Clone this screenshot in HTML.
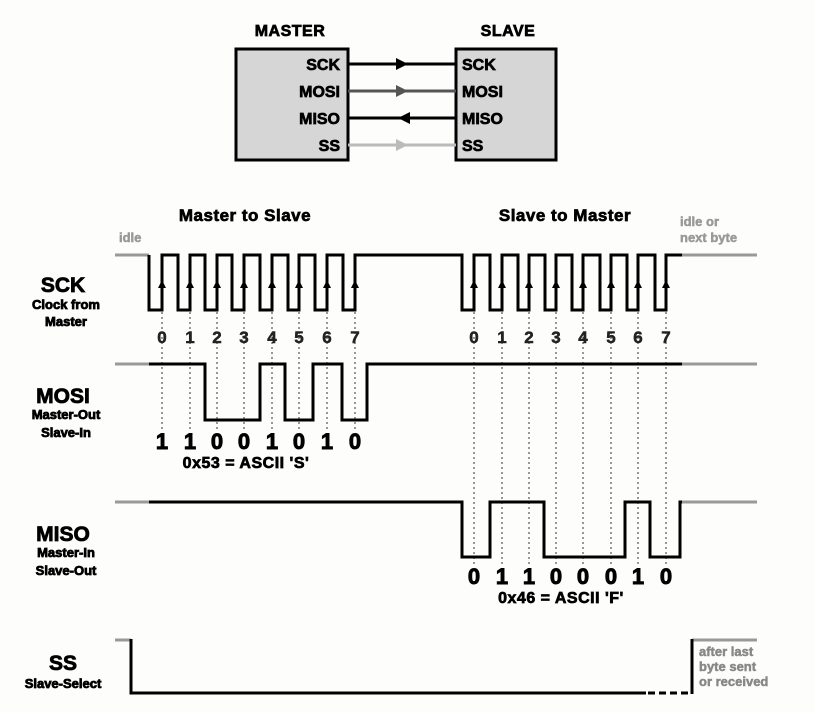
<!DOCTYPE html>
<html><head><style>body{margin:0;background:#fff}svg{display:block}text{font-family:"Liberation Sans",sans-serif;font-weight:bold;paint-order:stroke}</style></head><body>
<svg width="814" height="712" viewBox="0 0 814 712" xmlns="http://www.w3.org/2000/svg">
<rect width="814" height="712" fill="#fdfdfc"/>
<!-- top block -->
<g stroke="#000" stroke-width="0.7">
<text x="290" y="36" font-size="16" text-anchor="middle" letter-spacing="0.5">MASTER</text>
<text x="508" y="36" font-size="16" text-anchor="middle" letter-spacing="0.5">SLAVE</text>
</g>
<rect x="236" y="49" width="112" height="111" fill="#d6d6d6" stroke="#000" stroke-width="3"/>
<rect x="456" y="49" width="100" height="111" fill="#d6d6d6" stroke="#000" stroke-width="3"/>
<g font-size="16" text-anchor="end" stroke="#000" stroke-width="0.7">
<text x="340" y="70">SCK</text><text x="340" y="97">MOSI</text><text x="340" y="124">MISO</text><text x="340" y="151">SS</text></g>
<g font-size="16" stroke="#000" stroke-width="0.7"><text x="462" y="70">SCK</text><text x="462" y="97">MOSI</text><text x="462" y="124">MISO</text><text x="462" y="151">SS</text></g>
<line x1="348" y1="64" x2="456" y2="64" stroke="#000" stroke-width="3"/><path d="M396 58 L408 64 L396 70Z"/>
<line x1="348" y1="91" x2="456" y2="91" stroke="#555" stroke-width="3"/><path d="M396 85 L408 91 L396 97Z" fill="#555"/>
<line x1="348" y1="118" x2="456" y2="118" stroke="#000" stroke-width="3"/><path d="M410 112 L398 118 L410 124Z"/>
<line x1="348" y1="145" x2="456" y2="145" stroke="#bbb" stroke-width="3"/><path d="M396 139 L408 145 L396 151Z" fill="#bbb"/>
<!-- headers -->
<g stroke="#000" stroke-width="0.7">
<text x="245" y="221" font-size="17" text-anchor="middle" letter-spacing="0.5">Master to Slave</text>
<text x="565" y="221" font-size="17" text-anchor="middle" letter-spacing="0.5">Slave to Master</text>
</g>
<g fill="#999" stroke="#999" stroke-width="0.5" font-size="13">
<text x="119" y="242">idle</text>
<text x="680" y="226">idle or</text>
<text x="680" y="242">next byte</text>
</g>
<!-- left labels -->
<g text-anchor="middle" stroke="#000" stroke-width="0.8">
<text x="63" y="292" font-size="21">SCK</text><text x="66" y="309" font-size="13">Clock from</text><text x="66" y="326" font-size="13">Master</text>
<text x="63" y="403" font-size="21">MOSI</text><text x="66" y="419" font-size="13">Master-Out</text><text x="66" y="437" font-size="13">Slave-In</text>
<text x="63" y="541" font-size="21">MISO</text><text x="66" y="557" font-size="13">Master-In</text><text x="66" y="575" font-size="13">Slave-Out</text>
<text x="63" y="670" font-size="21">SS</text><text x="63" y="688" font-size="13">Slave-Select</text>
</g>
<!-- grey idle lines -->
<g stroke="#999" stroke-width="3">
<line x1="115" y1="255" x2="149" y2="255"/><line x1="682" y1="255" x2="757" y2="255"/>
<line x1="115" y1="364" x2="149" y2="364"/><line x1="682" y1="364" x2="757" y2="364"/>
<line x1="115" y1="502" x2="149" y2="502"/><line x1="682" y1="502" x2="757" y2="502"/>
<line x1="115" y1="640" x2="131" y2="640"/><line x1="692" y1="640" x2="757" y2="640"/>
</g>
<!-- dotted lines -->
<g stroke="#333" stroke-width="1" stroke-dasharray="2,3">
<line x1="162" y1="312" x2="162" y2="430"/><line x1="190" y1="312" x2="190" y2="430"/><line x1="217" y1="312" x2="217" y2="430"/><line x1="244" y1="312" x2="244" y2="430"/><line x1="272" y1="312" x2="272" y2="430"/><line x1="299" y1="312" x2="299" y2="430"/><line x1="327" y1="312" x2="327" y2="430"/><line x1="355" y1="312" x2="355" y2="430"/>
<line x1="474" y1="312" x2="474" y2="565"/><line x1="502" y1="312" x2="502" y2="565"/><line x1="529" y1="312" x2="529" y2="565"/><line x1="556" y1="312" x2="556" y2="565"/><line x1="583" y1="312" x2="583" y2="565"/><line x1="611" y1="312" x2="611" y2="565"/><line x1="638" y1="312" x2="638" y2="565"/><line x1="666" y1="312" x2="666" y2="565"/>
</g>
<!-- SCK -->
<path d="M149 255 V310 H162 V255 H178 V310 H190 V255 H205 V310 H217 V255 H232 V310 H244 V255 H260 V310 H272 V255 H288 V310 H299 V255 H315 V310 H327 V255 H343 V310 H355 V255 H462 V310 H474 V255 H490 V310 H502 V255 H518 V310 H529 V255 H545 V310 H556 V255 H572 V310 H583 V255 H600 V310 H611 V255 H627 V310 H638 V255 H655 V310 H666 V255 H682" fill="none" stroke="#000" stroke-width="3"/>
<g fill="#000">
<path d="M158 288 L162 280 L166 288Z"/><path d="M186 288 L190 280 L194 288Z"/><path d="M213 288 L217 280 L221 288Z"/><path d="M240 288 L244 280 L248 288Z"/><path d="M268 288 L272 280 L276 288Z"/><path d="M295 288 L299 280 L303 288Z"/><path d="M323 288 L327 280 L331 288Z"/><path d="M351 288 L355 280 L359 288Z"/>
<path d="M470 288 L474 280 L478 288Z"/><path d="M498 288 L502 280 L506 288Z"/><path d="M525 288 L529 280 L533 288Z"/><path d="M552 288 L556 280 L560 288Z"/><path d="M579 288 L583 280 L587 288Z"/><path d="M607 288 L611 280 L615 288Z"/><path d="M634 288 L638 280 L642 288Z"/><path d="M662 288 L666 280 L670 288Z"/>
</g>
<g font-size="17" text-anchor="middle" fill="#222" stroke="#222" stroke-width="0.5">
<text x="162" y="343">0</text><text x="190" y="343">1</text><text x="217" y="343">2</text><text x="244" y="343">3</text><text x="272" y="343">4</text><text x="299" y="343">5</text><text x="327" y="343">6</text><text x="355" y="343">7</text>
<text x="474" y="343">0</text><text x="502" y="343">1</text><text x="529" y="343">2</text><text x="556" y="343">3</text><text x="583" y="343">4</text><text x="611" y="343">5</text><text x="638" y="343">6</text><text x="666" y="343">7</text>
</g>
<!-- MOSI -->
<path d="M149 364 H205 V420 H260 V364 H285 V420 H313 V364 H342 V420 H367 V364 H682" fill="none" stroke="#000" stroke-width="3"/>
<g font-size="22" text-anchor="middle" stroke="#000" stroke-width="0.9">
<text x="162" y="449">1</text><text x="190" y="449">1</text><text x="217" y="449">0</text><text x="244" y="449">0</text><text x="272" y="449">1</text><text x="299" y="449">0</text><text x="327" y="449">1</text><text x="355" y="449">0</text>
</g>
<text x="246" y="468" font-size="16" text-anchor="middle" stroke="#000" stroke-width="0.7" letter-spacing="0.5">0x53 = ASCII 'S'</text>
<!-- MISO -->
<path d="M149 502 H462 V557 H490 V502 H544 V557 H625 V502 H650 V557 H680 V502 H682" fill="none" stroke="#000" stroke-width="3"/>
<g font-size="22" text-anchor="middle" stroke="#000" stroke-width="0.9">
<text x="474" y="584">0</text><text x="502" y="584">1</text><text x="529" y="584">1</text><text x="556" y="584">0</text><text x="583" y="584">0</text><text x="611" y="584">0</text><text x="638" y="584">1</text><text x="666" y="584">0</text>
</g>
<text x="561" y="603" font-size="16" text-anchor="middle" stroke="#000" stroke-width="0.7" letter-spacing="0.5">0x46 = ASCII 'F'</text>
<!-- SS -->
<path d="M131 639 V693 H646" fill="none" stroke="#000" stroke-width="3"/>
<path d="M648 693 H690" stroke="#000" stroke-width="3" stroke-dasharray="7,4"/>
<line x1="692" y1="694" x2="692" y2="639" stroke="#000" stroke-width="3"/>
<g font-size="13" fill="#888" stroke="#888" stroke-width="0.5"><text x="699" y="656">after last</text><text x="699" y="671">byte sent</text><text x="699" y="686">or received</text></g>
</svg>
</body></html>
